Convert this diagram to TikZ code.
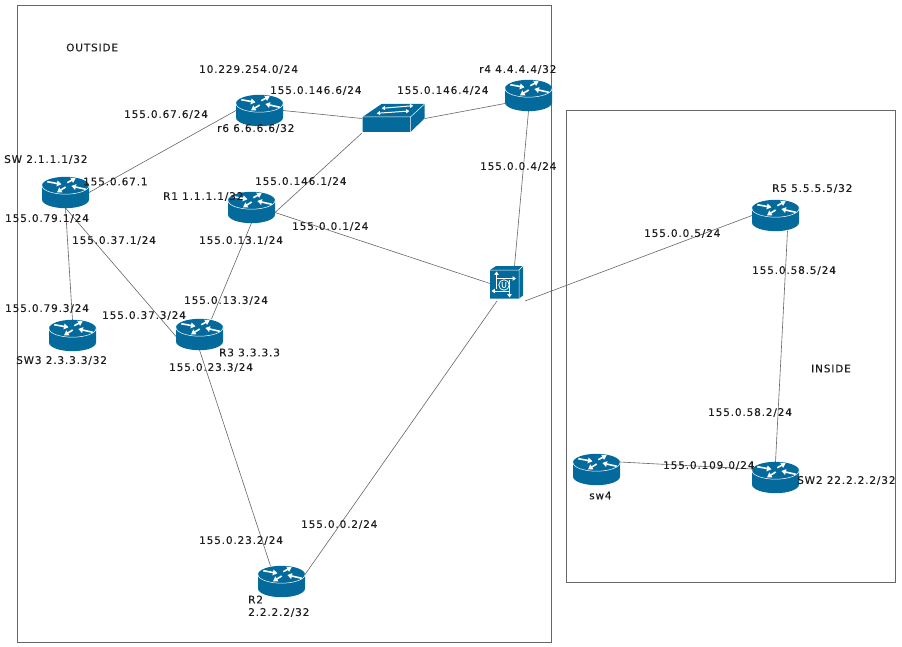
\documentclass[tikz,border=0pt]{standalone}
\usepackage{fontspec}
\setmainfont[LetterSpace=8,FakeBold=0.15]{DejaVu Sans}
\usetikzlibrary{arrows.meta}
\definecolor{cisco}{HTML}{036A9B}
\definecolor{linegray}{HTML}{666666}
\definecolor{txt}{HTML}{1E1E1E}
\tikzset{
  x=1pt,y=-1pt,
  zone/.style={draw=linegray,line width=0.7pt},
  link/.style={draw=linegray,line width=0.6pt},
  routerbox/.style={minimum width=47pt,minimum height=31pt,inner sep=0pt,outer sep=0pt},
  switchbox/.style={minimum width=63pt,minimum height=29pt,inner sep=0pt,outer sep=0pt},
  ubox/.style={minimum width=33pt,minimum height=35pt,inner sep=0pt,outer sep=0pt},
  wa/.style={draw=white,line width=1.6pt,-{Triangle[length=4.6pt,width=5.6pt]}},
  wb/.style={draw=white,line width=1pt,{Triangle[length=3.2pt,width=4pt]}-{Triangle[length=3.2pt,width=4pt]}},
  wc/.style={draw=white,line width=1pt,-{Triangle[length=3.4pt,width=4.4pt]}},
  edge/.style={draw=white,line width=0.5pt},
  lab/.style={anchor=west,inner sep=0pt,text=txt,font=\fontsize{10.5pt}{12pt}\selectfont},
}
\newcommand{\routericon}[3]{%
  \node[routerbox] (#1) at (#2,#3) {};
  \begin{scope}[shift={(#2,#3)}]
    \fill[cisco] (-23.5,-7) -- (-23.5,7) arc[start angle=180,end angle=360,x radius=23.5pt,y radius=8.7pt] -- (23.5,-7) arc[start angle=0,end angle=180,x radius=23.5pt,y radius=8.7pt] -- cycle;
    \draw[edge] (-23.5,-7) arc[start angle=180,end angle=360,x radius=23.5pt,y radius=8.7pt];
    \draw[wa] (-18.2,-10.8) -- (-4,-8.2);
    \draw[wa] (20.2,-3.2) -- (5.8,-6.5);
    \draw[wa] (1.8,-9.8) -- (10.2,-14.4);
    \draw[wa] (0.2,-5.5) -- (-8.5,-0.2);
  \end{scope}}
\newcommand{\switchicon}[3]{%
  \node[switchbox] (#1) at (#2,#3) {};
  \begin{scope}[shift={(#2,#3)}]
    \fill[cisco] (-31,-1.5) -- (-12,-14.5) -- (31,-14.5) -- (31,0) -- (17,13.5) -- (-31,13.5) -- cycle;
    \draw[edge] (-31,-1.5) -- (17,-1.5) -- (31,-14.5) (17,-1.5) -- (17,13.5);
    \draw[wb] (-11.8,-10.2) -- (19.8,-12.8);
    \draw[wb] (-16.8,-5.2) -- (15.8,-7.5);
  \end{scope}}
\newcommand{\uicon}[3]{%
  \node[ubox] (#1) at (#2,#3) {};
  \begin{scope}[shift={(#2,#3)}]
    \fill[cisco] (-16.5,-13.5) -- (-10.5,-17.5) -- (16.5,-17.5) -- (16.5,12) -- (12.5,15) -- (-16.5,15) -- cycle;
    \draw[edge] (-16.5,-13.5) -- (12.5,-13.5) -- (16.5,-17.5) (12.5,-13.5) -- (12.5,15);
    \draw[wc] (-10,5) -- (-10,-12);
    \draw[wc] (-10,-5) -- (9.5,-5);
    \draw[wc] (3.5,7.5) -- (-15,7.5);
    \draw[wc] (3,-3.5) -- (3,14);
    \draw[draw=white,fill=cisco,line width=0.8pt] (-2.5,1.5) circle[radius=5.2pt];
    \node[inner sep=0pt,text=white,font=\fontsize{7.5pt}{8pt}\selectfont] (#1u) at (-2.5,1.5) {U};
  \end{scope}}
\begin{document}
\begin{tikzpicture}
\useasboundingbox (0,0) rectangle (902,647);
\fill[white] (0,0) rectangle (902,647);
\draw[zone] (17.5,5.5) rectangle (551.5,642.5);
\draw[zone] (566.5,110.5) rectangle (895.5,582.5);
% node anchors
\node[routerbox] (SW) at (65.5,192.5) {};
\node[routerbox] (SWiii) at (72.5,335.5) {};
\node[routerbox] (Rvi) at (259.5,110.5) {};
\node[routerbox] (Ri) at (251.5,207.5) {};
\node[routerbox] (Riii) at (199.5,334.5) {};
\node[routerbox] (Rii) at (281.5,581.5) {};
\node[routerbox] (Riv) at (528.5,95.5) {};
\node[routerbox] (Rv) at (775.5,215.5) {};
\node[routerbox] (SWii) at (775.5,477.5) {};
\node[routerbox] (SWiv) at (596.5,469.5) {};
\node[switchbox] (HUB) at (393.5,118.5) {};
\node[ubox] (UP) at (506.5,283.5) {};
% links
\draw[link] (SW.east) -- (Rvi.west);
\draw[link] (Rvi.east) -- (HUB.west);
\draw[link] (HUB.east) -- ([yshift=-8pt]Riv.west);
\draw[link] (HUB.south west) -- ([yshift=-5pt]Ri.east);
\draw[link] ([yshift=-5pt]Ri.east) -- (UP.west);
\draw[link] (Riv.south) -- ([xshift=8pt]UP.north);
\draw[link] ([xshift=7pt]UP.south west) -- ([yshift=7pt]Rii.east);
\draw[link] ([xshift=2pt]UP.south east) -- (Rv.west);
\draw[link] ([xshift=12pt]Rv.south) -- (SWii.north);
\draw[link] ([yshift=7.5pt]SWiv.east) -- ([yshift=8.5pt]SWii.west);
\draw[link] (Riii.south) -- ([xshift=-11pt]Rii.north);
\draw[link] (Ri.south) -- ([xshift=12pt]Riii.north);
\draw[link] (SW.south) -- ([yshift=-2pt]Riii.west);
\draw[link] (SW.south) -- (SWiii.north);
% icons
\routericon{iSW}{65.5}{192.5}
\routericon{iSWiii}{72.5}{335.5}
\routericon{iRvi}{259.5}{110.5}
\routericon{iRi}{251.5}{207.5}
\routericon{iRiii}{199.5}{334.5}
\routericon{iRii}{281.5}{581.5}
\routericon{iRiv}{528.5}{95.5}
\routericon{iRv}{775.5}{215.5}
\routericon{iSWii}{775.5}{477.5}
\routericon{iSWiv}{596.5}{469.5}
\switchicon{iHUB}{393.5}{118.5}
\uicon{iUP}{506.5}{283.5}
% labels
\node[lab] (l1) at (66,47.5) {OUTSIDE};
\node[lab] (l2) at (199,69.5) {10.229.254.0/24};
\node[lab] (l3) at (270,90.5) {155.0.146.6/24};
\node[lab] (l4) at (397,90.5) {155.0.146.4/24};
\node[lab] (l5) at (479,69.5) {r4 4.4.4.4/32};
\node[lab] (l6) at (124,114.5) {155.0.67.6/24};
\node[lab] (l7) at (217,128.5) {r6 6.6.6.6/32};
\node[lab] (l8) at (4,159.5) {SW 2.1.1.1/32};
\node[lab] (l9) at (83,181.5) {155.0.67.1};
\node[lab] (l10) at (255,181.5) {155.0.146.1/24};
\node[lab] (l11) at (480,166.5) {155.0.0.4/24};
\node[lab] (l12) at (163,196.5) {R1 1.1.1.1/32};
\node[lab] (l13) at (5,218.5) {155.0.79.1/24};
\node[lab] (l14) at (292,226.5) {155.0.0.1/24};
\node[lab] (l15) at (72,240.5) {155.0.37.1/24};
\node[lab] (l16) at (199,240.5) {155.0.13.1/24};
\node[lab] (l17) at (772,188.5) {R5 5.5.5.5/32};
\node[lab] (l18) at (644,233.5) {155.0.0.5/24};
\node[lab] (l19) at (752,270.5) {155.0.58.5/24};
\node[lab] (l20) at (184,300.5) {155.0.13.3/24};
\node[lab] (l21) at (5,308.5) {155.0.79.3/24};
\node[lab] (l22) at (102,315.5) {155.0.37.3/24};
\node[lab] (l23) at (219,352.5) {R3 3.3.3.3};
\node[lab] (l24) at (16,360.5) {SW3 2.3.3.3/32};
\node[lab] (l25) at (169,367.5) {155.0.23.3/24};
\node[lab] (l26) at (811,368.5) {INSIDE};
\node[lab] (l27) at (708,412.5) {155.0.58.2/24};
\node[lab] (l28) at (663,465.5) {155.0.109.0/24};
\node[lab] (l29) at (797,480.5) {SW2 22.2.2.2/32};
\node[lab] (l30) at (589,495.5) {sw4};
\node[lab] (l31) at (301,524.5) {155.0.0.2/24};
\node[lab] (l32) at (199,540.5) {155.0.23.2/24};
\node[lab] (l33) at (248,599.5) {R2};
\node[lab] (l34) at (248,612.5) {2.2.2.2/32};
\end{tikzpicture}
\end{document}
